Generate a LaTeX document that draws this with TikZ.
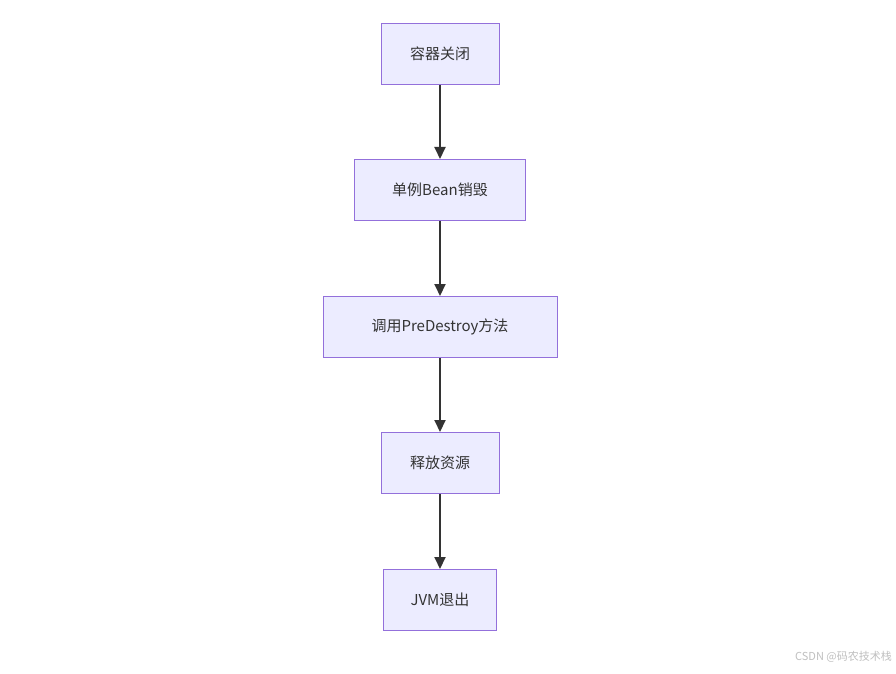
\documentclass[tikz,border=0pt]{standalone}
\usepackage{fontspec}
\setmainfont{Noto Sans CJK SC}
\usetikzlibrary{arrows.meta}
\definecolor{nodefill}{HTML}{ECECFF}
\definecolor{nodeline}{HTML}{9370DB}
\definecolor{arrowc}{HTML}{333333}
\begin{document}
\begin{tikzpicture}[x=1pt,y=1pt,
  box/.style={draw=nodeline,fill=nodefill,line width=1pt,minimum height=61pt,inner xsep=11pt,font=\fontsize{15}{18}\selectfont,text=arrowc},
  arr/.style={draw=arrowc,line width=2pt,-{Triangle[length=12pt,width=11pt]}}]
\useasboundingbox (0,0) rectangle (896,673);
\node[box,minimum width=118pt] (a) at (440,619) {容器关闭};
\node[box,minimum width=171pt] (b) at (440,483) {单例Bean销毁};
\node[box,minimum width=234pt] (c) at (440,346) {调用PreDestroy方法};
\node[box,minimum width=118pt] (d) at (440,210) {释放资源};
\node[box,minimum width=113pt] (e) at (440,73) {JVM退出};
\draw[arr] (a) -- (b);
\draw[arr] (b) -- (c);
\draw[arr] (c) -- (d);
\draw[arr] (d) -- (e);
\node[anchor=east,text=black!25,font=\fontsize{11}{13}\selectfont,inner sep=0pt] (w) at (892,16) {CSDN @码农技术栈};
\end{tikzpicture}
\end{document}
